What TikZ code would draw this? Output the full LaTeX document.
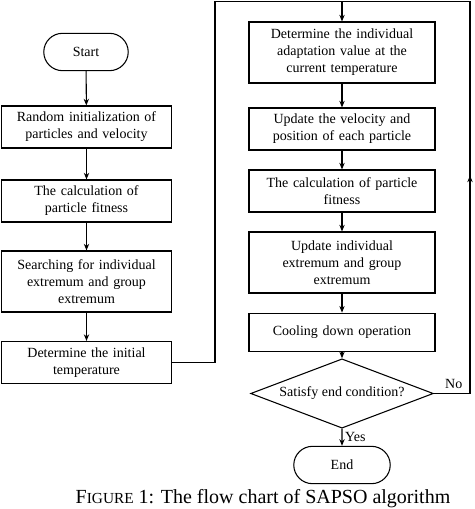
\documentclass[tikz,border=0pt]{standalone}
\usepackage{fontspec}
\setmainfont{Liberation Serif}
\usetikzlibrary{shapes.geometric,shapes.misc,arrows.meta}

\begin{document}
\begin{tikzpicture}[x=0.75pt,y=-0.75pt,line width=0.8pt,
  >={Stealth[length=5pt,width=4pt]},
  every node/.style={font=\fontsize{10.5}{12.75}\selectfont},
  lbox/.style={draw,align=center,minimum width=128pt,text width=122pt,inner sep=1pt},
  rbox/.style={draw,align=center,minimum width=139.5pt,text width=133pt,inner sep=1pt},
  term/.style={draw,rounded rectangle,minimum width=70pt,minimum height=28pt},
  test/.style={draw,diamond,aspect=2.65,inner sep=0pt,minimum width=137pt,minimum height=52pt}]
  \useasboundingbox (0,0) rectangle (474,509);
  % left column
  \node[term] (start) at (86,52) {Start};
  \node[lbox,minimum height=31.5pt] (init) at (86.5,127) {Random initialization of\\particles and velocity};
  \node[lbox,minimum height=31.5pt] (fit1) at (86.5,201) {The calculation of\\particle fitness};
  \node[lbox,minimum height=45.75pt] (search) at (86.5,281.5) {Searching for individual\\extremum and group\\extremum};
  \node[lbox,minimum height=31.5pt] (temp0) at (86.5,362.5) {Determine the initial\\temperature};
  % right column
  \node[rbox,minimum height=45.75pt] (adapt) at (342,52.5) {Determine the individual\\adaptation value at the\\current temperature};
  \node[rbox,minimum height=31.5pt] (upd) at (342,129) {Update the velocity and\\position of each particle};
  \node[rbox,minimum height=31.5pt] (fit2) at (342,191) {The calculation of particle\\fitness};
  \node[rbox,minimum height=45.75pt] (ext) at (342,262.5) {Update individual\\extremum and group\\extremum};
  \node[rbox,minimum height=29pt] (cool) at (342,332.5) {Cooling down operation};
  \node[test] (cond) at (342,393.5) {Satisfy end condition?};
  \node[term,minimum width=79pt] (stop) at (342,465) {End};
  \coordinate (top) at (342,1.5);
  \coordinate (lc) at (215,362.5);
  \coordinate (rc) at (470,393.5);

  \draw[->] (start) -- (init);
  \draw[->] (init) -- (fit1);
  \draw[->] (fit1) -- (search);
  \draw[->] (search) -- (temp0);
  \draw (temp0) -- (lc) -- (lc |- top) -- (top);
  \draw[->] (top) -- (adapt);
  \draw[->] (adapt) -- (upd);
  \draw[->] (upd) -- (fit2);
  \draw[->] (fit2) -- (ext);
  \draw[->] (ext) -- (cool);
  \draw[->] (cool) -- (cond);
  \draw[->] (cond) -- node[right,inner sep=2pt] {Yes} (stop);
  \draw (cond.east) -- node[above,pos=0.55] {No} (rc);
  \draw[->] (rc) -- ++(0,-218);
  \draw (rc) -- (rc |- top) -- (top);

  \node[anchor=south,inner sep=0.5pt,font=\fontsize{15}{17}\selectfont] (cap) at (263,509)
    {F{\fontsize{11.5}{13}\selectfont IGURE} 1: The flow chart of SAPSO algorithm};
\end{tikzpicture}
\end{document}
